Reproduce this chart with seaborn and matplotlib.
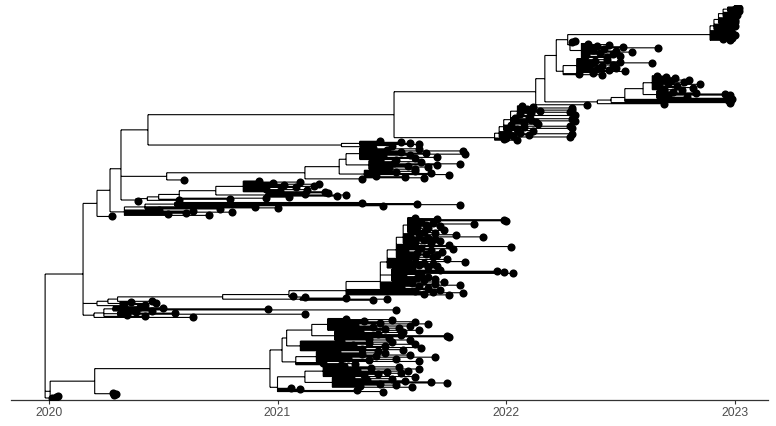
import numpy as np
import pandas as pd
import seaborn as sns
import matplotlib.pyplot as plt

# time-scaled tree, every clade is [node date, child, child, ...]
# children are listed top to bottom, a child is a tip date or another clade
clade_g = [2022.893,
           [2022.91,
            [2022.93,
             [2022.95,
              [2022.97, 2023.01, 2023.02, 2023.0, 2023.01, 2023.02],
              2022.99, 2023.0, 2023.01, 2023.0, 2022.99],
             2022.98, 2022.99, 2023.0, 2022.99, 2023.0, 2022.98],
            2022.97, 2022.98, 2023.0, 2022.99, 2022.96, 2022.98],
           2022.96, 2022.98, 2022.99, 2022.97, 2023.0, 2022.98, 2022.97, 2022.99, 2022.95, 2022.98]

clade_h_up = [2022.28, 2022.30, 2022.29,
              [2022.33, 2022.36, 2022.45, 2022.40, 2022.51, 2022.665, 2022.43, 2022.38, 2022.48,
               2022.55, 2022.41, 2022.47, 2022.35, 2022.50, 2022.44]]
clade_h_mid = [2022.25,
               [2022.31, 2022.34, 2022.44, 2022.39, 2022.50, 2022.64, 2022.37, 2022.47, 2022.42,
                2022.35, 2022.48, 2022.40, 2022.45, 2022.52, 2022.38],
               2022.32, 2022.42]

clade_f = [2022.40,
           [2022.46,
            [2022.52,
             [2022.60,
              [2022.64, 2022.66, 2022.70, 2022.74, 2022.68, 2022.80, 2022.72, 2022.78, 2022.71,
               2022.85, 2022.67, 2022.75, 2022.82, 2022.69, 2022.77],
              [2022.66, 2022.69, 2022.73, 2022.83, 2022.96, 2022.98, 2022.71, 2022.79, 2022.97]],
             2022.99, 2022.97, 2022.98],
            2022.98],
           2022.69]

clade_e = [2021.95,
           [2021.97,
            [2021.99,
             [2022.02,
              [2022.05, 2022.07, 2022.12, 2022.29, 2022.09, 2022.29, 2022.15, 2022.28, 2022.11,
               2022.06, 2022.30, 2022.10],
              2022.04, 2022.29, 2022.11, 2022.30, 2022.13, 2022.08, 2022.14],
             2022.02, 2022.28, 2022.08, 2022.29, 2022.05, 2022.12],
            2022.01, 2022.06, 2022.29, 2022.10, 2022.03, 2022.28],
           2022.0, 2021.99, 2022.05]

clade_d1 = [2021.28, [2021.36, 2021.45, 2021.54, 2021.58, 2021.62, 2021.50], 2021.40]

clade_d2 = [2020.515,
            [2021.12,
             [2021.27,
              [2021.30,
               [2021.36, 2021.42, 2021.62, 2021.48, 2021.81, 2021.54, 2021.65, 2021.82, 2021.58,
                2021.46, 2021.70, 2021.60, 2021.52],
               [2021.40, 2021.45, 2021.63, 2021.51, 2021.80, 2021.70, 2021.57, 2021.66, 2021.49,
                2021.60]],
              [2021.38, 2021.47, 2021.60, 2021.52, 2021.67, 2021.75, 2021.43, 2021.56, 2021.64]],
             2021.37],
            2020.59]

clade_m = [2020.38,
           [2020.43,
            [2020.48,
             [2020.57,
              [2020.73,
               [2020.85, 2020.92, 2021.10, 2020.98, 2021.18, 2021.03, 2021.16, 2021.08, 2020.95,
                2021.13, 2021.01, 2021.21],
               [2020.95, 2021.22, 2021.12, 2021.30, 2021.26, 2021.05]],
              2020.95],
             2020.79],
            2020.57],
           2020.39]

clade_l = [2020.33,
           [2020.42,
            [2020.55, 2021.37, 2021.61, 2021.80, 2021.46],
            2020.90, 2021.0, 2020.75],
           2020.48, 2020.63, 2020.80, 2020.60, 2020.52, 2020.70]

clade_k = [2021.05,
           [2021.30,
            [2021.45,
             [2021.48,
              [2021.52,
               [2021.55,
                [2021.57, 2021.60, 2021.70, 2021.99, 2022.0, 2021.63, 2021.68, 2021.86, 2021.65,
                 2021.71, 2021.61, 2021.66, 2021.59, 2021.73, 2021.64, 2021.69],
                2021.62, 2021.78, 2021.58, 2021.90, 2021.66, 2021.69, 2021.64, 2021.71, 2021.60,
                2021.67],
               2021.59, 2021.75, 2022.02, 2021.63, 2021.77, 2021.67, 2021.56, 2021.72, 2021.61,
               2021.65, 2021.70, 2021.58, 2021.68],
              2021.60, 2021.74, 2021.57, 2021.82, 2021.64, 2021.68, 2021.62, 2021.70, 2021.66,
              2021.59],
             [2021.50, 2021.58, 2021.71, 2021.96, 2021.99, 2022.03, 2021.63, 2021.55, 2021.66,
              2021.61, 2021.69, 2021.64, 2021.57],
             2021.73, 2021.59, 2021.69, 2021.80, 2021.62, 2021.54, 2021.66],
            2021.71, 2021.60, 2021.68, 2021.81, 2021.64, 2021.75],
           2021.07, 2021.12]

clade_a3 = [2020.197,
            [2020.24,
             [2020.28, 2020.40, 2020.50, 2020.96, 2021.52, 2020.45],
             [2020.30, 2020.38, 2020.55, 2021.12, 2020.34],
             2020.42],
            2020.63]

clade_c = [2020.967,
           [2021.02,
            [2021.04,
             [2021.15,
              [2021.22, 2021.30, 2021.50, 2021.38, 2021.60, 2021.45, 2021.66, 2021.34, 2021.58,
               2021.42, 2021.53, 2021.47, 2021.62],
              [2021.25, 2021.36, 2021.55, 2021.44, 2021.54, 2021.74, 2021.75, 2021.49, 2021.40,
               2021.58]],
             [2021.10, 2021.28, 2021.50, 2021.40, 2021.60, 2021.33, 2021.47, 2021.63, 2021.37,
              2021.55, 2021.44]],
            [2021.08,
             [2021.17, 2021.26, 2021.47, 2021.37, 2021.58, 2021.43, 2021.69, 2021.31, 2021.52,
              2021.40, 2021.62],
             2021.20, 2021.34, 2021.28]],
           [2021.00,
            [2021.12,
             [2021.20, 2021.29, 2021.53, 2021.41, 2021.62, 2021.35, 2021.57, 2021.48, 2021.54,
              2021.44, 2021.38, 2021.60],
             [2021.24, 2021.32, 2021.50, 2021.39, 2021.56, 2021.67, 2021.74, 2021.45, 2021.52,
              2021.36, 2021.59]],
            2021.06, 2021.10, 2021.35, 2021.46]]

# backbone joining the clades
node557 = [2022.22, [2022.27, clade_g, clade_h_up], clade_h_mid]
node544 = [2022.17, node557, clade_f]
node535 = [2022.13, node544, 2022.354]
node394 = [2021.51, node535, clade_e]
node148 = [2020.433, node394, clade_d1]
node121 = [2020.315, node148, clade_d2, clade_m]
clade_a1 = [2020.21, [2020.267, node121, clade_l], 2020.276]
clade_a2 = [2020.21,
            [2020.258,
             [2020.30,
              [2020.76, clade_k, [2021.1, 2021.30, 2021.48, 2021.42]],
              2020.45],
             [2020.31, 2020.36, 2020.47, 2020.42]],
            2020.33]
clade_a = [2020.149, clade_a1, clade_a2, clade_a3]
clade_b = [2020.005, [2020.20, clade_c, [2020.27, 2020.28, 2020.295, 2020.285]], 2020.04, 2020.03]
tree = [2019.983, clade_a, clade_b, 2020.013]

year_ticks = [2020, 2021, 2022, 2023]

tip_x, tip_y = [], []
seg_x, seg_y = [], []


def place(node):
    # tips are numbered from the top, nodes sit at the mean of their children
    if not isinstance(node, list):
        tip_x.append(node)
        tip_y.append(len(tip_y))
        return node, tip_y[-1]
    date = node[0]
    ys = []
    for child in node[1:]:
        cx, cy = place(child)
        seg_x.extend([date, cx, np.nan])
        seg_y.extend([cy, cy, np.nan])
        ys.append(cy)
    seg_x.extend([date, date, np.nan])
    seg_y.extend([min(ys), max(ys), np.nan])
    return date, float(np.mean(ys))


place(tree)
tips = pd.DataFrame({'date': tip_x, 'pos': tip_y})
n = len(tips)

sns.set_style("white")
plt.rcParams['font.family'] = ['Liberation Sans', 'DejaVu Sans']

fig = plt.figure(figsize=(7.76, 4.26), dpi=100)
ax = fig.add_axes([11 / 776, 26 / 426, 757 / 776, 395 / 426])

ax.plot(seg_x, seg_y, color='black', lw=0.8, solid_capstyle='butt')
sns.scatterplot(data=tips, x='date', y='pos', ax=ax, color='black', s=34,
                linewidth=0, zorder=3, legend=False)

px = 391 / (n - 1)
ax.set_ylim(n - 1 + 2 / px, -2 / px)
ax.set_xlim(2020 + (11 - 49) / 228.5, 2020 + (768 - 49) / 228.5)
ax.set_xticks(year_ticks)
ax.set_xticklabels([str(t) for t in year_ticks])
ax.set_yticks([])
ax.set_xlabel('')
ax.set_ylabel('')
for side in ['left', 'top', 'right']:
    ax.spines[side].set_visible(False)
ax.spines['bottom'].set_color('#333333')
ax.spines['bottom'].set_linewidth(0.9)
ax.tick_params(axis='x', length=3, width=0.8, color='#333333', labelcolor='#4D4D4D',
               labelsize=8.8, pad=2, bottom=True)

fig.savefig('out.png', dpi=100)
